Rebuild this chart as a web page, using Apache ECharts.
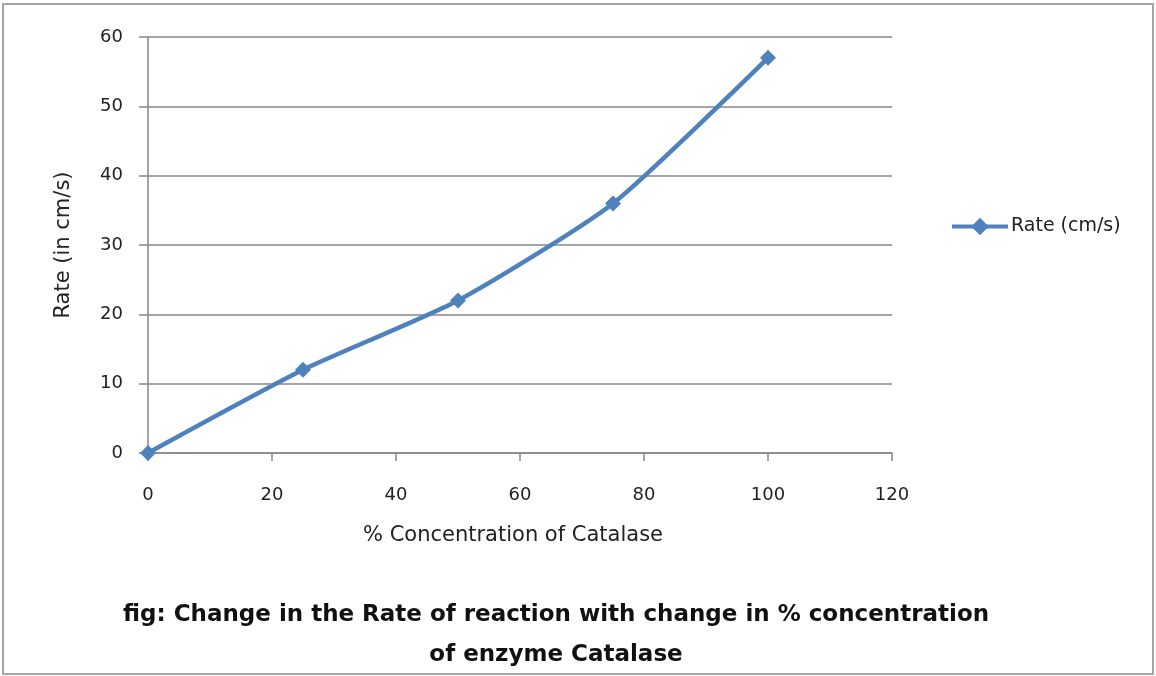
<!DOCTYPE html>
<html>
<head>
<meta charset="utf-8">
<script src="https://cdn.jsdelivr.net/npm/echarts@6/dist/echarts.min.js"></script>
<style>
  html, body { margin: 0; padding: 0; background: #fff; }
  #frame { position: absolute; left: 2px; top: 3px; width: 1148px; height: 668px; border: 2px solid #a6a6a6; }
  #chart { position: absolute; left: 0; top: 0; width: 1156px; height: 676px; }
</style>
</head>
<body>
<div id="frame"></div>
<div id="chart"></div>
<script>
const concentration = [0, 25, 50, 75, 100]
const rate = [0, 12, 22, 36, 57]
const seriesName = 'Rate (cm/s)'

const chart = echarts.init(document.getElementById('chart'))
const axisText = { color: '#222', fontFamily: 'DejaVu Sans', fontSize: 18 }
chart.setOption({
  animation: false,
  grid: { left: 148, right: 264, top: 37, bottom: 223 },
  title: {
    text: 'fig: Change in the Rate of reaction with change in % concentration\nof enzyme Catalase',
    left: 551,
    top: 590,
    textAlign: 'center',
    textStyle: { fontFamily: 'DejaVu Sans', fontWeight: 'bold', fontSize: 23, lineHeight: 40, color: '#111' }
  },
  legend: {
    left: 945,
    top: 212,
    itemWidth: 56,
    itemHeight: 22,
    itemGap: 4,
    lineStyle: { width: 4 },
    textStyle: { fontFamily: 'DejaVu Sans', fontSize: 19, color: '#222', padding: [0, 0, 0, -2] },
    data: [seriesName]
  },
  xAxis: {
    type: 'value',
    min: 0,
    max: 120,
    interval: 20,
    name: '% Concentration of Catalase',
    nameLocation: 'middle',
    nameGap: 72,
    nameTextStyle: { fontFamily: 'DejaVu Sans', fontSize: 21, color: '#222', padding: [0, 14, 0, 0] },
    axisLine: { show: true, lineStyle: { color: '#878787', width: 1.5 } },
    axisTick: { show: true, length: 8, lineStyle: { color: '#878787', width: 1.5 } },
    axisLabel: Object.assign({ margin: 33 }, axisText),
    splitLine: { show: false }
  },
  yAxis: {
    type: 'value',
    min: 0,
    max: 60,
    interval: 10,
    name: 'Rate (in cm/s)',
    nameLocation: 'middle',
    nameGap: 74,
    nameRotate: 90,
    nameTextStyle: { fontFamily: 'DejaVu Sans', fontSize: 21, color: '#222' },
    axisLine: { show: true, lineStyle: { color: '#878787', width: 1.5 } },
    axisTick: { show: true, length: 9, lineStyle: { color: '#878787', width: 1.5 } },
    axisLabel: Object.assign({ margin: 25 }, axisText),
    splitLine: { show: true, lineStyle: { color: '#878787', width: 1.5 } }
  },
  series: [{
    name: seriesName,
    type: 'line',
    smooth: 0.2,
    symbol: 'diamond',
    symbolSize: 16,
    lineStyle: { color: '#4f81bd', width: 4.5 },
    itemStyle: { color: '#4f81bd' },
    data: concentration.map((c, i) => [c, rate[i]])
  }]
})
</script>
</body>
</html>
